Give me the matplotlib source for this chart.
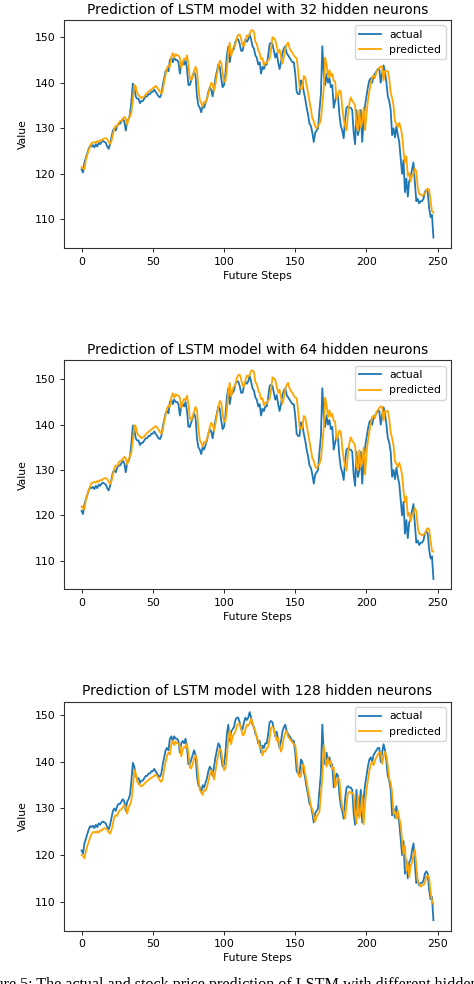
import numpy as np
import matplotlib
matplotlib.use("Agg")
import matplotlib.pyplot as plt

# actual stock price (same series in all three panels)
actual = [
    121.0, 120.3, 122.5, 123.5, 124.5, 125.5, 126.2, 126.0, 126.3, 125.8,
    126.5, 126.0, 126.8, 126.5, 127.0, 127.2, 127.0, 126.8, 126.0, 125.5,
    126.5, 128.0, 129.5, 130.0, 129.5, 130.5, 131.0, 131.0, 131.5, 132.0,
    131.5, 129.5, 131.5, 132.0, 133.0, 136.0, 139.8, 139.0, 137.0, 136.5,
    136.5, 135.5, 136.0, 136.0, 136.5, 137.0, 137.0, 137.5, 137.5, 138.0,
    138.0, 138.5, 138.0, 137.5, 137.0, 136.8, 137.5, 139.5, 141.0, 142.5,
    143.0, 142.5, 145.0, 145.5, 144.5, 145.5, 145.0, 145.0, 144.5, 142.0,
    144.0, 144.5, 144.0, 145.0, 143.0, 139.5, 139.5, 140.5, 141.5, 142.5,
    141.5, 137.0, 135.0, 134.5, 133.5, 135.0, 134.5, 135.5, 136.5, 138.0,
    139.0, 138.5, 137.0, 139.0, 141.0, 142.5, 144.0, 143.5, 141.0, 139.0,
    139.5, 142.0, 146.0, 148.0, 144.5, 146.5, 147.0, 147.5, 149.0, 149.5,
    149.5, 148.5, 147.0, 147.0, 148.5, 149.5, 149.0, 149.5, 150.7, 149.5,
    148.0, 147.5, 146.0, 145.5, 144.0, 144.5, 142.0, 143.5, 143.0, 144.0,
    144.0, 146.0, 148.5, 148.8, 148.5, 147.0, 145.5, 146.5, 144.5, 143.0,
    144.5, 146.5, 147.5, 148.0, 146.5, 146.0, 145.5, 145.0, 144.5, 144.5,
    142.0, 138.0, 137.5, 137.5, 140.5, 140.0, 138.0, 136.5, 134.5, 133.0,
    131.0, 130.5, 129.0, 127.0, 129.0, 129.5, 130.0, 134.0, 137.5, 148.0,
    142.0, 139.5, 142.0, 140.0, 141.0, 139.0, 139.5, 134.5, 136.0, 137.5,
    137.0, 133.0, 130.5, 129.5, 127.8, 132.0, 134.5, 134.8, 134.5, 134.5,
    134.0, 129.0, 126.5, 134.0, 128.5, 130.0, 134.0, 127.0, 132.0, 135.0,
    137.0, 139.0, 140.5, 141.0, 140.0, 141.5, 142.0, 142.5, 143.0, 143.0,
    140.0, 142.0, 143.8, 142.5, 140.0, 137.0, 136.0, 134.0, 128.5, 130.0,
    128.0, 130.5, 128.5, 127.0, 123.5, 120.0, 123.0, 116.0, 119.0, 115.0,
    118.5, 119.0, 121.0, 122.5, 118.0, 114.0, 114.5, 113.5, 114.0, 114.0,
    114.5, 116.0, 116.5, 116.0, 112.5, 110.5, 111.0, 106.0,
]

pred_32 = [
    121.5, 121.2, 121.0, 123.0, 124.2, 125.2, 126.0, 126.8, 126.8, 127.0,
    126.8, 127.2, 127.0, 127.4, 127.3, 127.6, 127.8, 127.8, 127.6, 127.0,
    126.6, 127.2, 128.6, 130.0, 130.6, 130.4, 131.2, 131.6, 131.6, 132.1,
    132.5, 132.2, 130.8, 132.0, 132.6, 133.5, 136.2, 139.5, 139.2, 137.8,
    137.2, 137.0, 136.6, 136.8, 137.0, 137.4, 137.8, 138.0, 138.3, 138.5,
    138.8, 139.0, 139.3, 139.0, 138.5, 138.0, 137.6, 138.3, 140.2, 141.8,
    143.2, 143.8, 143.5, 145.6, 146.5, 145.5, 146.3, 146.0, 146.0, 145.5,
    143.2, 144.5, 145.3, 145.0, 146.0, 144.2, 141.0, 140.6, 141.4, 142.5,
    143.5, 142.8, 138.8, 136.2, 135.6, 134.8, 135.8, 135.6, 136.4, 137.5,
    139.0, 140.0, 139.6, 138.2, 139.8, 141.8, 143.4, 144.8, 144.5, 142.2,
    140.2, 140.4, 142.8, 146.8, 148.8, 145.8, 147.3, 148.0, 148.4, 149.9,
    150.5, 150.6, 149.6, 148.2, 148.0, 149.3, 150.4, 150.2, 150.5, 151.5,
    151.5, 151.2, 149.0, 148.5, 147.2, 146.5, 145.2, 145.4, 143.8, 144.5,
    144.3, 145.0, 145.2, 147.2, 150.0, 149.8, 149.4, 148.0, 146.6, 147.3,
    145.6, 144.2, 145.6, 147.4, 148.4, 148.8, 147.6, 147.0, 146.6, 146.0,
    145.6, 145.4, 142.8, 139.2, 138.6, 138.8, 141.5, 141.2, 139.4, 137.8,
    135.8, 134.2, 132.2, 131.6, 130.4, 130.0, 130.5, 131.0, 131.8, 135.2,
    138.8, 145.5, 144.0, 141.2, 142.8, 141.4, 142.0, 140.4, 140.3, 136.4,
    137.2, 138.3, 138.0, 134.5, 132.0, 130.5, 129.5, 133.0, 135.5, 136.8,
    136.0, 135.6, 135.0, 130.6, 129.5, 134.0, 130.2, 131.5, 134.5, 129.6,
    133.2, 136.0, 138.0, 139.8, 141.3, 141.6, 141.0, 142.4, 142.8, 143.3,
    143.6, 143.5, 140.5, 142.6, 142.5, 142.6, 140.8, 137.8, 136.6, 135.0,
    131.5, 131.0, 130.2, 131.2, 130.2, 128.5, 125.0, 122.5, 123.8, 119.5,
    120.2, 118.3, 119.7, 120.0, 121.2, 120.5, 117.0, 115.6, 115.5, 115.2,
    115.4, 115.6, 116.4, 116.8, 116.5, 114.0, 111.8, 111.5,
]

pred_64 = [
    122.0, 121.5, 121.4, 123.4, 124.6, 125.6, 126.4, 127.2, 127.2, 127.4,
    127.2, 127.6, 127.4, 127.8, 127.7, 128.0, 128.2, 128.2, 128.0, 127.4,
    127.0, 127.6, 129.0, 130.4, 131.0, 130.8, 131.6, 132.0, 132.0, 132.5,
    132.9, 132.6, 131.2, 132.4, 133.0, 133.9, 136.6, 139.9, 139.6, 138.2,
    137.6, 137.4, 137.0, 137.2, 137.4, 137.8, 138.2, 138.4, 138.7, 138.9,
    139.2, 139.4, 139.7, 139.4, 138.9, 138.4, 138.0, 138.7, 140.6, 142.2,
    143.6, 144.2, 143.9, 146.0, 146.9, 145.9, 146.7, 146.4, 146.4, 145.9,
    143.6, 144.9, 145.7, 145.4, 146.4, 144.6, 141.4, 141.0, 141.8, 142.9,
    143.9, 143.2, 139.2, 136.6, 136.0, 135.2, 136.2, 136.0, 136.8, 137.9,
    139.4, 140.4, 140.0, 138.6, 140.2, 142.2, 143.8, 145.2, 144.9, 142.6,
    140.6, 140.8, 143.2, 147.2, 149.2, 146.2, 147.7, 148.4, 148.8, 150.3,
    150.9, 151.0, 150.0, 148.6, 148.4, 149.7, 150.8, 150.6, 150.9, 151.9,
    151.9, 151.6, 149.4, 148.9, 147.6, 146.9, 145.6, 145.8, 144.2, 144.9,
    144.7, 145.4, 145.6, 147.6, 150.4, 150.2, 149.8, 148.4, 147.0, 147.7,
    146.0, 144.6, 146.0, 147.8, 148.8, 149.2, 148.0, 147.4, 147.0, 146.4,
    146.0, 145.8, 143.2, 139.6, 139.0, 139.2, 141.9, 141.6, 139.8, 138.2,
    136.2, 134.6, 132.6, 132.0, 130.8, 130.4, 130.9, 131.4, 132.2, 135.6,
    139.2, 145.9, 144.4, 141.6, 143.2, 141.8, 142.4, 140.8, 140.7, 136.8,
    137.6, 138.7, 138.4, 134.9, 132.4, 130.9, 129.9, 133.4, 135.9, 137.2,
    136.4, 136.0, 135.4, 131.0, 129.9, 134.4, 130.6, 131.9, 134.9, 129.0,
    133.6, 136.4, 138.4, 140.2, 141.7, 142.0, 141.4, 142.8, 143.2, 143.7,
    144.0, 143.9, 140.9, 143.0, 142.9, 143.0, 141.2, 138.2, 137.0, 135.4,
    131.9, 131.4, 130.6, 131.6, 130.6, 128.9, 125.4, 122.9, 124.2, 119.9,
    120.6, 118.7, 120.1, 120.4, 121.6, 120.9, 117.4, 116.0, 115.9, 115.6,
    115.8, 116.0, 116.8, 117.2, 116.9, 114.4, 112.2, 112.0,
]

pred_128 = [
    120.0, 119.8, 119.3, 120.8, 122.0, 122.8, 123.8, 124.5, 124.9, 125.0,
    124.8, 125.1, 124.8, 125.3, 125.2, 125.6, 125.8, 125.7, 125.5, 124.9,
    124.6, 125.4, 126.8, 128.2, 128.6, 128.4, 129.3, 129.7, 129.8, 130.3,
    130.7, 130.4, 128.9, 130.2, 130.8, 131.8, 134.5, 138.3, 137.6, 135.8,
    135.3, 135.0, 134.7, 135.0, 135.3, 135.6, 135.9, 136.1, 136.4, 136.6,
    136.8, 137.0, 137.3, 137.0, 136.5, 136.0, 135.7, 136.5, 138.5, 140.0,
    141.4, 142.0, 141.6, 143.8, 144.6, 143.6, 144.4, 144.0, 143.9, 143.4,
    141.2, 142.6, 143.3, 143.0, 143.9, 142.0, 138.8, 138.6, 139.6, 140.7,
    141.4, 140.6, 136.5, 134.0, 133.5, 132.9, 134.0, 133.8, 134.6, 135.8,
    137.2, 138.2, 137.8, 136.2, 138.0, 140.0, 141.6, 142.8, 142.5, 140.2,
    138.2, 138.6, 141.2, 145.0, 146.8, 143.8, 145.4, 146.0, 146.5, 147.8,
    148.2, 148.2, 147.2, 145.8, 145.8, 147.0, 148.0, 147.8, 148.3, 149.3,
    148.5, 147.2, 146.6, 145.2, 144.6, 143.2, 143.3, 141.4, 142.4, 142.2,
    143.0, 143.2, 145.0, 147.3, 147.5, 147.2, 145.8, 144.6, 145.2, 143.4,
    142.2, 143.4, 145.2, 146.3, 146.6, 145.4, 145.0, 144.6, 144.2, 143.8,
    143.6, 141.2, 137.4, 136.8, 136.8, 139.4, 139.2, 137.4, 135.8, 133.9,
    132.4, 130.4, 129.8, 128.4, 127.2, 128.3, 128.8, 129.4, 133.0, 136.5,
    143.6, 141.0, 139.0, 140.8, 139.4, 140.2, 138.4, 138.8, 134.6, 135.4,
    136.6, 136.2, 132.6, 130.2, 129.4, 127.8, 131.0, 133.3, 133.6, 133.4,
    133.4, 133.0, 128.8, 126.8, 132.8, 128.0, 129.4, 132.8, 126.6, 131.0,
    134.0, 136.0, 138.0, 139.5, 140.0, 139.3, 140.4, 141.0, 141.6, 142.0,
    142.0, 139.6, 141.2, 142.2, 141.2, 139.2, 136.4, 135.4, 133.5, 128.8,
    129.4, 127.8, 129.6, 128.0, 126.6, 123.2, 120.2, 122.0, 116.6, 118.2,
    115.3, 117.6, 118.4, 120.0, 121.2, 117.6, 114.2, 114.0, 113.2, 113.5,
    113.6, 114.0, 115.4, 115.6, 115.2, 112.0, 110.2, 109.5,
]

hidden_sizes = [32, 64, 128]
predictions = [pred_32, pred_64, pred_128]

caption = ("Figure 5: The actual and stock price prediction of LSTM "
           "with different hidden neurons")

plt.rcParams["axes.linewidth"] = 0.8
plt.rcParams["axes.edgecolor"] = "#333333"

fig = plt.figure(figsize=(4.74, 9.84), dpi=100)

# axes boxes (left, bottom, width, height) in figure fraction
boxes = [
    (0.135, 0.748, 0.8165, 0.2317),
    (0.135, 0.401, 0.8165, 0.2330),
    (0.135, 0.0542, 0.8165, 0.2327),
]

steps = np.arange(len(actual))

for n_hidden, pred, box in zip(hidden_sizes, predictions, boxes):
    ax = fig.add_axes(box)
    ax.plot(steps, actual, color="#1f77b4", lw=1.3, label="actual")
    ax.plot(steps, pred, color="orange", lw=1.3, label="predicted")
    ax.set_title(f"Prediction of LSTM model with {n_hidden} hidden neurons",
                 fontsize=9.9, pad=4.5)
    ax.set_xlabel("Future Steps", fontsize=7.8, labelpad=3)
    ax.set_ylabel("Value", fontsize=7.8, labelpad=5)
    ax.set_xticks([0, 50, 100, 150, 200, 250])
    ax.set_yticks([110, 120, 130, 140, 150])
    ax.tick_params(labelsize=7.8, length=2.7, width=0.6, pad=3.5)
    ax.legend(loc="upper right", fontsize=7.8)

# figure caption, cropped by the page edges as in the source scan
fig.text(-0.0555, 0.0076, caption, family="Liberation Serif", fontsize=11.6,
         ha="left", va="top")

fig.savefig("out.png", dpi=100)
